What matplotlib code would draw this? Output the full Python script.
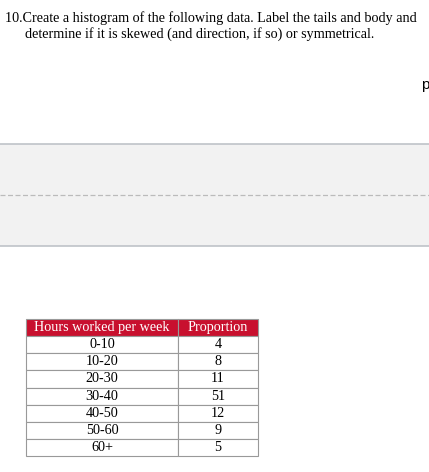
import matplotlib.pyplot as plt
from matplotlib.patches import Rectangle

hours = ["0-10", "10-20", "20-30", "30-40", "40-50", "50-60", "60+"]
proportion = [4, 8, 11, 51, 12, 9, 5]
header = ["Hours worked per week", "Proportion"]

W, H = 429, 472
fig = plt.figure(figsize=(W/100, H/100), dpi=100)
ax = fig.add_axes([0, 0, 1, 1])
ax.set_xlim(0, W); ax.set_ylim(H, 0); ax.axis('off')
serif = ['Liberation Serif', 'DejaVu Serif']

ax.text(5, 18, "10.Create a histogram of the following data. Label the tails and body and",
        family=serif, fontsize=10.2, va='center', ha='left')
ax.text(25, 34, "determine if it is skewed (and direction, if so) or symmetrical.",
        family=serif, fontsize=10.2, va='center', ha='left')
ax.text(421, 85, "p", family=['Liberation Sans'], fontsize=11, va='center', ha='left')

ax.add_patch(Rectangle((0, 144), W, 102, facecolor='#f2f2f2', edgecolor='none'))
ax.plot([0, W], [144, 144], color='#bfc3c8', lw=1.2)
ax.plot([0, W], [246, 246], color='#bfc3c8', lw=1.2)
ax.plot([0, W], [195, 195], color='#bbbbbb', lw=0.9, ls=(0, (4, 2)))

cells = [[h, str(p)] for h, p in zip(hours, proportion)]
tb = ax.table(cellText=cells, colLabels=header, colWidths=[0.655, 0.345],
              cellLoc='center', bbox=[26/W, 1-456/H, 232/W, 137/H])
tb.auto_set_font_size(False)
for (r, c), cell in tb.get_celld().items():
    cell.set_edgecolor('#999999'); cell.set_linewidth(0.8)
    t = cell.get_text()
    t.set_family(serif); t.set_fontsize(10.2)
    if r == 0:
        cell.set_facecolor('#c8102e'); t.set_color('white')
fig.savefig('out.png', dpi=100)
